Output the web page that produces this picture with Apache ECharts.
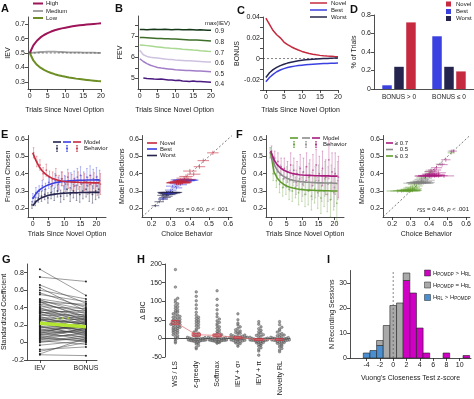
<!DOCTYPE html>
<html>
<head>
<meta charset="utf-8">
<script src="https://cdn.jsdelivr.net/npm/echarts@6/dist/echarts.min.js"></script>
<style>
  html, body { margin: 0; padding: 0; background: #fff; }
  #chart { width: 474px; height: 399px; }
</style>
</head>
<body>
<div id="chart"></div>
<script>
// ---------- data ----------
var tA = [0,1,2,3,4,5,6,7,8,9,10,11,12,13,14,15,16,17,18,19,20];
var aHigh = [0.50,0.553,0.585,0.608,0.625,0.638,0.649,0.658,0.665,0.671,0.676,0.681,0.685,0.689,0.692,0.695,0.698,0.700,0.702,0.704,0.706];
var aMedium = [0.50,0.503,0.505,0.507,0.508,0.509,0.510,0.509,0.508,0.507,0.506,0.505,0.505,0.504,0.504,0.503,0.503,0.502,0.502,0.501,0.501];
var aLow = [0.50,0.448,0.418,0.398,0.383,0.371,0.361,0.353,0.346,0.340,0.335,0.330,0.326,0.322,0.319,0.316,0.313,0.310,0.308,0.305,0.303];

var bLevels = ['0.9','0.8','0.7','0.6','0.5','0.4'];
var b09 = [7.31,7.31,7.30,7.31,7.32,7.31,7.31,7.32,7.31,7.30,7.31,7.31,7.30,7.30,7.31,7.30,7.29,7.30,7.29,7.28,7.28];
var b08 = [6.93,6.93,6.92,6.91,6.90,6.89,6.89,6.88,6.87,6.86,6.86,6.85,6.84,6.83,6.82,6.82,6.81,6.80,6.79,6.78,6.77];
var b07 = [6.58,6.57,6.55,6.53,6.51,6.49,6.47,6.45,6.44,6.42,6.41,6.40,6.38,6.37,6.36,6.34,6.33,6.31,6.30,6.28,6.27];
var b06 = [6.33,6.12,6.04,6.00,5.98,5.96,5.94,5.92,5.90,5.89,5.87,5.86,5.85,5.84,5.83,5.82,5.81,5.80,5.79,5.78,5.78];
var b05 = [5.93,5.80,5.70,5.62,5.57,5.52,5.49,5.47,5.45,5.43,5.41,5.40,5.39,5.38,5.37,5.36,5.35,5.35,5.34,5.33,5.32];
var b04 = [null,5.02,5.00,4.99,4.97,4.96,4.97,4.95,4.93,4.92,4.90,4.91,4.88,4.87,4.86,4.88,4.86,4.85,4.84,4.83,4.82];

var cNovel = [0.039,0.033,0.027,0.023,0.020,0.016,0.0135,0.0115,0.0098,0.0083,0.0070,0.0059,0.0050,0.0043,0.0037,0.0032,0.0028,0.0025,0.0023,0.0021,0.0020];
var cBest = [-0.022,-0.018,-0.015,-0.0125,-0.0108,-0.0095,-0.0085,-0.0077,-0.0071,-0.0066,-0.0062,-0.0058,-0.0055,-0.0052,-0.0050,-0.0048,-0.0046,-0.0045,-0.0044,-0.0043,-0.0042];
var cWorst = [-0.018,-0.0135,-0.0105,-0.0083,-0.0066,-0.0053,-0.0042,-0.0033,-0.0026,-0.0020,-0.0015,-0.0011,-0.0008,-0.0005,-0.0003,-0.0001,0.0001,0.0003,0.0005,0.0006,0.0008];

var dCats = ['BONUS > 0', 'BONUS \u2264 0'];
var dNovel = [0.72, 0.19];
var dBest = [0.04, 0.57];
var dWorst = [0.24, 0.24];

var tE = [0,1,2,3,4,5,6,7,8,9,10,11,12,13,14,15,16,17,18,19,20,21];
var eNovelModel = [0.520,0.475,0.440,0.415,0.397,0.384,0.374,0.367,0.362,0.358,0.355,0.353,0.352,0.351,0.350,0.349,0.349,0.348,0.348,0.347,0.347,0.347];
var eBestModel = [0.255,0.285,0.305,0.318,0.328,0.336,0.342,0.347,0.351,0.354,0.356,0.358,0.359,0.360,0.361,0.362,0.362,0.363,0.363,0.363,0.364,0.364];
var eWorstModel = [0.215,0.238,0.253,0.263,0.270,0.275,0.279,0.282,0.284,0.286,0.287,0.288,0.289,0.290,0.290,0.291,0.291,0.291,0.292,0.292,0.292,0.292];
var eNovelBeh = [0.52,0.47,0.45,0.40,0.42,0.38,0.37,0.39,0.35,0.37,0.34,0.36,0.35,0.33,0.36,0.34,0.35,0.33,0.34,0.35,0.33,0.34];
var eBestBeh = [0.26,0.29,0.30,0.33,0.31,0.35,0.33,0.36,0.34,0.37,0.35,0.38,0.36,0.37,0.38,0.39,0.36,0.38,0.39,0.37,0.38,0.36];
var eWorstBeh = [0.22,0.24,0.26,0.27,0.28,0.26,0.29,0.28,0.30,0.27,0.29,0.31,0.28,0.30,0.29,0.28,0.30,0.31,0.29,0.28,0.30,0.31];
var eNovelErr = [0.03,0.03,0.03,0.035,0.035,0.035,0.04,0.04,0.04,0.04,0.045,0.045,0.045,0.045,0.05,0.05,0.05,0.05,0.05,0.055,0.055,0.06];
var eBestErr = [0.025,0.03,0.03,0.03,0.035,0.035,0.035,0.04,0.04,0.04,0.04,0.045,0.045,0.045,0.05,0.05,0.05,0.05,0.055,0.055,0.055,0.06];
var eWorstErr = [0.02,0.025,0.025,0.03,0.03,0.03,0.035,0.035,0.035,0.035,0.04,0.04,0.04,0.04,0.045,0.045,0.045,0.045,0.05,0.05,0.05,0.05];

var fHighModel = [0.530,0.480,0.452,0.434,0.421,0.412,0.405,0.400,0.397,0.394,0.392,0.391,0.390,0.389,0.388,0.388,0.387,0.387,0.387,0.386,0.386,0.386];
var fMidModel = [0.530,0.455,0.420,0.398,0.384,0.374,0.367,0.362,0.358,0.355,0.353,0.351,0.350,0.349,0.348,0.347,0.347,0.346,0.346,0.346,0.345,0.345];
var fLowModel = [0.520,0.410,0.375,0.353,0.339,0.329,0.322,0.317,0.313,0.310,0.308,0.306,0.305,0.304,0.303,0.302,0.302,0.301,0.301,0.300,0.300,0.300];
var fHighBeh = [0.53,0.49,0.47,0.44,0.43,0.41,0.45,0.42,0.40,0.43,0.41,0.44,0.39,0.42,0.45,0.40,0.43,0.38,0.48,0.41,0.40,0.38];
var fMidBeh = [0.52,0.46,0.41,0.40,0.37,0.38,0.36,0.39,0.35,0.37,0.34,0.36,0.38,0.33,0.35,0.36,0.33,0.37,0.34,0.35,0.32,0.36];
var fLowBeh = [0.52,0.40,0.36,0.34,0.32,0.33,0.31,0.30,0.32,0.29,0.31,0.28,0.30,0.27,0.31,0.29,0.26,0.30,0.28,0.25,0.29,0.23];
var fHighErr = [0.03,0.04,0.05,0.05,0.06,0.06,0.07,0.07,0.07,0.08,0.08,0.08,0.09,0.09,0.09,0.10,0.10,0.10,0.11,0.11,0.12,0.12];
var fMidErr = [0.03,0.04,0.04,0.05,0.05,0.06,0.06,0.06,0.07,0.07,0.07,0.08,0.08,0.08,0.09,0.09,0.09,0.10,0.10,0.10,0.11,0.11];
var fLowErr = [0.03,0.04,0.04,0.05,0.05,0.05,0.06,0.06,0.06,0.07,0.07,0.07,0.08,0.08,0.08,0.09,0.09,0.09,0.10,0.10,0.10,0.11];
// horizontal half-widths of the crosses in the F scatter
var fScatterErr = [0.02,0.025,0.03,0.03,0.035,0.035,0.04,0.04,0.04,0.045,0.045,0.045,0.05,0.05,0.05,0.05,0.055,0.055,0.055,0.06,0.06,0.06];

var gCats = ['IEV', 'BONUS'];
var gIEV = [0.84,0.75,0.66,0.63,0.60,0.57,0.55,0.50,0.49,0.48,0.47,0.46,0.46,0.44,0.43,0.41,0.40,0.39,0.38,0.37,0.36,0.35,0.34,0.33,0.33,0.31,0.30,0.29,0.28,0.27,0.26,0.26,0.25,0.24,0.23,0.22,0.21,0.20,0.19,0.18,0.17,0.16,0.15,0.14,0.13,0.12,0.11,0.10,0.09,0.08,0.07,0.06,0.05,0.04,0.03,0.02,0.01,0.00,-0.03,-0.08,-0.10,-0.13,-0.14,0.35,0.27,0.22,0.18,0.12,0.09,0.05];
var gBONUS = [0.54,0.70,0.45,0.36,0.50,0.40,0.47,0.42,0.33,0.38,0.28,0.44,0.30,0.35,0.25,0.39,0.22,0.31,0.27,0.34,0.20,0.29,0.37,0.18,0.24,0.32,0.15,0.26,0.21,0.12,0.30,0.17,0.23,0.10,0.19,0.28,0.14,0.25,0.08,0.16,0.22,0.05,0.18,0.11,0.20,0.03,0.13,0.24,0.07,0.15,0.01,0.10,0.17,0.04,0.12,-0.02,0.08,0.06,0.02,-0.05,0.00,0.05,-0.15,0.26,0.21,0.13,0.09,0.19,0.16,0.02];
var gMean = [0.22, 0.18];
var gStarLevel = 0.26;

var hCats = ['WS / LS', '\u03b5-greedy', 'Softmax', 'IEV + \u03c3\u00b2', 'IEV + \u03c0', 'Novelty RL'];
var hWSLS = [185,138,108,103,97,93,88,85,81,77,74,71,69,66,63,61,59,57,55,53,51,49,47,46,44,43,41,40,38,37,35,33,32,30,28,27,25,23,21,19,17,15,12,10,7,4,1,-3,-8,-12];
var hEps = [125,113,101,90,80,70,62,57,54,50,47,44,40,37,33,29,25,21,17,14,11,8,6,4,3,2,1,0,-1,-1,-2,-3,-3,-4,-4,-5,-5,-5,-6,-6,-7,-7,-8,-9,-10,-12,-15,-19,-24,-28];
var hSoft = [128,105,89,77,66,58,52,47,43,39,35,31,27,23,19,16,13,10,8,6,4,3,2,1,0,-1,-1,-2,-3,-3,-4,-4,-5,-5,-5,-6,-6,-7,-7,-8,-9,-10,-11,-13];
var hSigma = [66,50,41,36,31,27,23,20,18,16,14,12,10,9,7,6,5,4,3,2,1,0,0,-1,-2,-2,-3,-4,-5,-6,-7,-8,-9,-10,-12,-14,-17,-21,2,3,1,-1,0,4];
var hPi = [45,38,31,26,22,18,15,12,10,8,6,4,3,1,0,-1,-2,-3,-3,-4,-5,-5,-6,-6,-7,-8,-9,-10,-11,-12,-14,-16,-18,-21,-25,-29,-34,-45,-4,-2,-5,-3];
var hNov = [45,37,30,25,21,17,13,11,9,7,5,4,3,2,1,0,-1,-2,-2,-3,-4,-4,-5,-5,-6,-7,-8,-9,-10,-11,-13,-15,-17,-20,-23,-27,-31,-36,-3,-1,-6,0];
var hMean = [43, 10, 8, 2, -3, -3];
var hErr = [5, 4, 4, 2.5, 2.5, 2.5];

var iBins = [-4,-3,-2,-1,0,1,2,3,4,5,8,11];
var iBlue = [2,3,5,0,0,0,0,0,0,0,0,0];
var iGray = [0,0,2,13,21,22,3,0,0,0,0,0];
var iMagenta = [0,0,0,0,0,0,31,26,12,2,2,1];

// ---------- helpers ----------
var FONT = '"Liberation Sans", Arial, sans-serif';
var INK = '#222';

function vAxis(gi, min, max, ticks, labels, name, gap, lblMargin) {
  return {
    type: 'value', gridIndex: gi, min: min, max: max,
    name: name || '', nameLocation: 'middle', nameGap: gap || 0,
    nameTextStyle: {fontSize: 7, color: INK, fontFamily: FONT},
    axisLine: {show: true, onZero: false, lineStyle: {color: INK, width: 0.8}},
    axisTick: {show: true, length: 3, customValues: ticks, lineStyle: {color: INK, width: 0.8}},
    axisLabel: {customValues: labels || ticks, fontSize: 7, color: INK, fontFamily: FONT, margin: lblMargin || 3},
    splitLine: {show: false}
  };
}

function pairs(xs, ys) {
  return xs.map(function (x, i) { return [x, ys[i]]; });
}

function lineS(xi, xs, ys, color, w) {
  return {type: 'line', xAxisIndex: xi, yAxisIndex: xi, data: pairs(xs, ys), showSymbol: false,
    symbol: 'none', lineStyle: {color: color, width: w}, itemStyle: {color: color}, silent: true, z: 3};
}

function errS(xi, xs, ys, es, dx, color) {
  var data = xs.map(function (x, i) { return [x + dx, ys[i], es[i]]; });
  return {type: 'custom', xAxisIndex: xi, yAxisIndex: xi, data: data, silent: true, z: 2,
    renderItem: function (p, api) {
      var x = api.value(0), y = api.value(1), e = api.value(2);
      var a = api.coord([x, y + e]), b = api.coord([x, y - e]), c = api.coord([x, y]);
      var st = {stroke: color, lineWidth: 0.6};
      return {type: 'group', children: [
        {type: 'line', shape: {x1: a[0], y1: a[1], x2: b[0], y2: b[1]}, style: st},
        {type: 'line', shape: {x1: a[0] - 0.8, y1: a[1], x2: a[0] + 0.8, y2: a[1]}, style: st},
        {type: 'line', shape: {x1: b[0] - 0.8, y1: b[1], x2: b[0] + 0.8, y2: b[1]}, style: st},
        {type: 'circle', shape: {cx: c[0], cy: c[1], r: 0.9}, style: {fill: color}}
      ]};
    }};
}

function crossS(xi, bx, my, ex, ey, color) {
  var data = bx.map(function (x, i) { return [x, my[i], ex[i], ey]; });
  return {type: 'custom', xAxisIndex: xi, yAxisIndex: xi, data: data, silent: true, z: 3,
    renderItem: function (p, api) {
      var x = api.value(0), y = api.value(1), a = api.value(2), b = api.value(3);
      var l = api.coord([x - a, y]), r = api.coord([x + a, y]);
      var t = api.coord([x, y + b]), d = api.coord([x, y - b]);
      var st = {stroke: color, lineWidth: 0.8};
      return {type: 'group', children: [
        {type: 'line', shape: {x1: l[0], y1: l[1], x2: r[0], y2: r[1]}, style: st},
        {type: 'line', shape: {x1: t[0], y1: t[1], x2: d[0], y2: d[1]}, style: st}
      ]};
    }};
}

function diagS(xi) {
  return {type: 'line', xAxisIndex: xi, yAxisIndex: xi, data: [[0.15, 0.15], [0.62, 0.62]], symbol: 'none',
    lineStyle: {color: '#444', width: 0.7, type: [2, 2]}, silent: true, z: 1};
}

// deterministic beeswarm: points sharing a value bin are spread sideways
function swarm(vals, idx) {
  var sorted = vals.slice().sort(function (a, b) { return a - b; });
  var bins = {};
  sorted.forEach(function (v) { var k = Math.round(v / 7); (bins[k] = bins[k] || []).push(v); });
  var out = [];
  Object.keys(bins).forEach(function (k) {
    var arr = bins[k], n = arr.length;
    var d = Math.min(0.11, 0.84 / Math.max(n - 1, 1));
    arr.forEach(function (v, j) {
      var off = (j % 2 === 1 ? 1 : -1) * Math.ceil(j / 2) * d;
      out.push([idx + off, v]);
    });
  });
  return out;
}

// ---------- colours ----------
var colA = {high: '#9e1458', med: '#a3a3a3', low: '#6d8e24'};
var colB = ['#16391a', '#3d6e2a', '#a9d890', '#cfc2e0', '#a27dc8', '#4a1a80'];
var colNovel = '#c62a3e', colBest = '#3b40e0', colWorst = '#24244e';
var colF = {high: '#a81c7c', mid: '#8c8c8c', low: '#5f9b2d'};
var colI = {blue: '#4b8fd0', gray: '#a9a9a9', mag: '#d000c4'};
var colG = '#b2e632';

// ---------- grids ----------
var grids = [
  {left: 28, top: 17, width: 73, height: 72},       // A
  {left: 138, top: 16, width: 73, height: 73},      // B
  {left: 263, top: 17, width: 75, height: 73},      // C
  {left: 374, top: 15, width: 100, height: 74},     // D
  {left: 28, top: 135.5, width: 78, height: 81.5},  // E left
  {left: 142, top: 135.5, width: 90, height: 81.5}, // E right
  {left: 266, top: 135.5, width: 78, height: 81.5}, // F left
  {left: 383, top: 135.5, width: 90, height: 81.5}, // F right
  {left: 27, top: 264, width: 70, height: 96},      // G
  {left: 165, top: 264, width: 125, height: 93},    // H
  {left: 350, top: 270.5, width: 121, height: 87.5} // I
];

var trialTicks = [0, 5, 10, 15, 20];
var fracTicks = [0.2, 0.3, 0.4, 0.5, 0.6];
var TRIALS = 'Trials Since Novel Option';

var xAxes = [
  vAxis(0, -0.5, 20, trialTicks, null, TRIALS, 18, 4),
  vAxis(1, -0.5, 20, trialTicks, null, TRIALS, 18, 4),
  vAxis(2, -0.8, 20, trialTicks, null, TRIALS, 17, 4),
  {type: 'category', gridIndex: 3, data: dCats, axisLine: {lineStyle: {color: INK, width: 0.8}},
    axisTick: {show: false}, axisLabel: {fontSize: 6.5, color: INK, fontFamily: FONT, margin: 5}},
  vAxis(4, -1.5, 23, trialTicks, null, TRIALS, 14, 4),
  vAxis(5, 0.15, 0.62, fracTicks, null, 'Choice Behavior', 14, 4),
  vAxis(6, -1.5, 23, trialTicks, null, TRIALS, 14, 4),
  vAxis(7, 0.15, 0.62, fracTicks, null, 'Choice Behavior', 14, 4),
  vAxis(8, -0.28, 1.24, [0, 1], null, '', 0, 5),
  {type: 'category', gridIndex: 9, data: hCats, axisLine: {lineStyle: {color: INK, width: 0.8}},
    axisTick: {show: true, length: 2, alignWithLabel: true, lineStyle: {color: INK, width: 0.8}},
    axisLabel: {rotate: 90, fontSize: 7, color: INK, fontFamily: FONT, margin: 4,
      formatter: function (v) { return v.indexOf('\u03b5') === 0 ? '{i|\u03b5}' + v.slice(1) : v; },
      rich: {i: {fontStyle: 'italic', fontSize: 7, fontFamily: FONT, color: INK}}}},
  vAxis(10, -6.5, 11.7, [-4, -2, 0, 2, 4, 6, 8, 10], null, "Vuong's Closeness Test z-score", 17, 4),
  {type: 'value', gridIndex: 9, min: -0.5, max: 5.5, show: false}
];
xAxes[8].axisLabel.formatter = function (v) { return gCats[Math.round(v)]; };

var yAxes = [
  vAxis(0, 0.25, 0.75, [0.3, 0.4, 0.5, 0.6, 0.7], null, 'IEV', 16),
  vAxis(1, 4.5, 7.95, [5, 5.5, 6, 6.5, 7, 7.5], [5, 6, 7], 'FEV', 14),
  vAxis(2, -0.03, 0.04, [-0.03, -0.02, -0.01, 0, 0.01, 0.02, 0.03, 0.04], [-0.02, 0, 0.02, 0.04], 'BONUS', 17),
  vAxis(3, 0, 0.8, [0, 0.2, 0.4, 0.6, 0.8], null, '% of Trials', 16),
  vAxis(4, 0.15, 0.62, fracTicks, null, 'Fraction Chosen', 15),
  vAxis(5, 0.15, 0.62, fracTicks, null, 'Model Predictions', 15),
  vAxis(6, 0.15, 0.62, fracTicks, null, 'Fraction Chosen', 18),
  vAxis(7, 0.15, 0.62, fracTicks, null, 'Model Predictions', 17),
  vAxis(8, -0.2, 0.9, [-0.2, 0, 0.2, 0.4, 0.6, 0.8], null, 'Standardized Coefficient', 15),
  vAxis(9, -50, 200, [-50, 0, 50, 100, 150, 200], null, '\u0394 BIC', 18),
  vAxis(10, 0, 35, [0, 10, 20, 30], null, 'N Recording Sessions', 14)
];

// ---------- series ----------
var series = [];

// A
series.push(lineS(0, tA, aMedium, colA.med, 1.8));
series.push(lineS(0, tA, aHigh, colA.high, 2));
series.push(lineS(0, tA, aLow, colA.low, 2));
series.push({type: 'line', xAxisIndex: 0, yAxisIndex: 0, data: [[0, 0.5], [20, 0.5]], symbol: 'none',
  lineStyle: {color: '#333', width: 0.6, type: [2, 2]}, silent: true, z: 4});

// B
[b09, b08, b07, b06, b05, b04].forEach(function (arr, i) {
  series.push(lineS(1, tA, arr, colB[i], 1.5));
});

// C
series.push({type: 'line', xAxisIndex: 2, yAxisIndex: 2, data: [[-0.8, 0], [20, 0]], symbol: 'none',
  lineStyle: {color: '#333', width: 0.6, type: [2, 2]}, silent: true, z: 1});
series.push(lineS(2, tA, cNovel, colNovel, 1.5));
series.push(lineS(2, tA, cBest, colBest, 1.5));
series.push(lineS(2, tA, cWorst, colWorst, 1.5));

// D
[[dBest, colBest], [dWorst, colWorst], [dNovel, colNovel]].forEach(function (s) {
  series.push({type: 'bar', xAxisIndex: 3, yAxisIndex: 3, data: s[0], barWidth: 9.5, barGap: '26%',
    barCategoryGap: '33%', itemStyle: {color: s[1]}, silent: true});
});

// E left
series.push(errS(4, tE, eWorstBeh, eWorstErr, -0.25, 'rgba(36,36,78,0.7)'));
series.push(errS(4, tE, eBestBeh, eBestErr, 0, 'rgba(59,64,224,0.6)'));
series.push(errS(4, tE, eNovelBeh, eNovelErr, 0.25, 'rgba(198,42,62,0.6)'));
series.push(lineS(4, tE, eWorstModel, colWorst, 1.6));
series.push(lineS(4, tE, eBestModel, colBest, 1.6));
series.push(lineS(4, tE, eNovelModel, colNovel, 1.6));

// E right
series.push(diagS(5));
series.push(crossS(5, eWorstBeh, eWorstModel, eWorstErr, 0.008, 'rgba(36,36,78,0.8)'));
series.push(crossS(5, eBestBeh, eBestModel, eBestErr, 0.008, 'rgba(59,64,224,0.75)'));
series.push(crossS(5, eNovelBeh, eNovelModel, eNovelErr, 0.012, 'rgba(198,42,62,0.75)'));

// F left
series.push(errS(6, tE, fLowBeh, fLowErr, -0.25, 'rgba(95,155,45,0.55)'));
series.push(errS(6, tE, fMidBeh, fMidErr, 0, 'rgba(130,130,130,0.55)'));
series.push(errS(6, tE, fHighBeh, fHighErr, 0.25, 'rgba(168,28,124,0.55)'));
series.push(lineS(6, tE, fLowModel, colF.low, 1.6));
series.push(lineS(6, tE, fMidModel, colF.mid, 1.6));
series.push(lineS(6, tE, fHighModel, colF.high, 1.6));

// F right
series.push(diagS(7));
series.push(crossS(7, fLowBeh, fLowModel, fScatterErr, 0.01, 'rgba(95,155,45,0.65)'));
series.push(crossS(7, fMidBeh, fMidModel, fScatterErr, 0.01, 'rgba(130,130,130,0.65)'));
series.push(crossS(7, fHighBeh, fHighModel, fScatterErr, 0.012, 'rgba(168,28,124,0.65)'));

// G
gIEV.forEach(function (v, i) {
  series.push({type: 'line', xAxisIndex: 8, yAxisIndex: 8, data: [[0, v], [1, gBONUS[i]]],
    symbol: 'circle', symbolSize: 2, showSymbol: true, lineStyle: {color: '#3c3c3c', width: 0.5},
    itemStyle: {color: '#222'}, silent: true, z: 2});
});
series.push({type: 'line', xAxisIndex: 8, yAxisIndex: 8, data: [[0, gMean[0]], [1, gMean[1]]], symbol: 'none',
  lineStyle: {color: colG, width: 3.5}, silent: true, z: 5});
series.push({type: 'scatter', xAxisIndex: 8, yAxisIndex: 8, data: [[0.5, gStarLevel]], symbolSize: 0,
  label: {show: true, formatter: '* * *', color: colG, fontSize: 8, fontWeight: 'bold', position: 'inside'},
  silent: true, z: 6});

// H
[hWSLS, hEps, hSoft, hSigma, hPi, hNov].forEach(function (vals, i) {
  series.push({type: 'scatter', xAxisIndex: 11, yAxisIndex: 9, data: swarm(vals, i), symbolSize: 2.6,
    itemStyle: {color: '#8e8e8e', borderColor: '#2a2a2a', borderWidth: 0.4}, silent: true, z: 2});
});
series.push({type: 'line', xAxisIndex: 11, yAxisIndex: 9, data: hMean.map(function (m, i) { return [i, m]; }),
  symbol: 'none', lineStyle: {color: '#e07b7b', width: 0.8}, silent: true, z: 4});
series.push({type: 'custom', xAxisIndex: 11, yAxisIndex: 9, silent: true, z: 5,
  data: hMean.map(function (m, i) { return [i, m, hErr[i]]; }),
  renderItem: function (p, api) {
    var x = api.value(0), m = api.value(1), e = api.value(2);
    var a = api.coord([x - 0.2, m + e]), b = api.coord([x + 0.2, m - e]);
    return {type: 'rect', shape: {x: a[0], y: a[1], width: b[0] - a[0], height: b[1] - a[1]},
      style: {fill: 'rgba(220,70,80,0.35)', stroke: '#d23a48', lineWidth: 0.8}};
  }});

// I
series.push({type: 'custom', xAxisIndex: 10, yAxisIndex: 10, silent: true, z: 2,
  data: iBins.map(function (b, i) { return [b, iBlue[i], iMagenta[i], iGray[i]]; }),
  renderItem: function (p, api) {
    var x = api.value(0), base = 0, kids = [];
    [[api.value(1), colI.blue], [api.value(2), colI.mag], [api.value(3), colI.gray]].forEach(function (s) {
      if (s[0] > 0) {
        var a = api.coord([x - 0.5, base + s[0]]), b = api.coord([x + 0.5, base]);
        kids.push({type: 'rect', shape: {x: a[0], y: a[1], width: b[0] - a[0], height: b[1] - a[1]},
          style: {fill: s[1], stroke: '#222', lineWidth: 0.6}});
        base += s[0];
      }
    });
    return {type: 'group', children: kids};
  }});
series.push({type: 'line', xAxisIndex: 10, yAxisIndex: 10, data: [[0, 0], [0, 35]], symbol: 'none',
  lineStyle: {color: '#555', width: 0.7, type: [2, 2]}, silent: true, z: 6});

// ---------- legends, labels, letters ----------
function gl(x1, x2, y, color, w) {
  return {type: 'line', z: 50, silent: true, shape: {x1: x1, y1: y, x2: x2, y2: y}, style: {stroke: color, lineWidth: w}};
}
function gt(x, y, text, size, align, extra) {
  var st = {text: text, fontSize: size, fontFamily: FONT, fill: INK, align: align || 'left', verticalAlign: 'middle'};
  if (extra) { for (var k in extra) { st[k] = extra[k]; } }
  return {type: 'text', x: x, y: y, z: 50, silent: true, style: st};
}
function gbar(x, y, color) {
  return {type: 'group', z: 50, silent: true, children: [
    {type: 'line', shape: {x1: x, y1: y - 3, x2: x, y2: y + 3}, style: {stroke: color, lineWidth: 0.7}},
    {type: 'line', shape: {x1: x - 0.8, y1: y - 3, x2: x + 0.8, y2: y - 3}, style: {stroke: color, lineWidth: 0.7}},
    {type: 'line', shape: {x1: x - 0.8, y1: y + 3, x2: x + 0.8, y2: y + 3}, style: {stroke: color, lineWidth: 0.7}},
    {type: 'circle', shape: {cx: x, cy: y, r: 0.9}, style: {fill: color}}
  ]};
}
function letter(x, y, t) {
  return gt(x, y, t, 11, 'left', {fontWeight: 'bold', fill: '#111'});
}
var subRich = {s: {fontSize: 4.5, fontFamily: FONT, fill: INK, verticalAlign: 'bottom', padding: [3, 0, 0, 0]},
  i: {fontSize: 6, fontFamily: FONT, fill: INK, fontStyle: 'italic'}};

var graphics = [
  letter(1, 8.5, 'A'), letter(115, 8.5, 'B'), letter(237, 10.5, 'C'), letter(350, 9.5, 'D'),
  letter(1, 135, 'E'), letter(236, 134.5, 'F'), letter(2, 259.5, 'G'), letter(137, 259.5, 'H'), letter(327, 259.5, 'I'),
  // A legend
  gl(33, 43, 3.5, colA.high, 2), gt(46, 3.5, 'High', 6),
  gl(33, 43, 11, colA.med, 2), gt(46, 11, 'Medium', 6),
  gl(33, 43, 18, colA.low, 2), gt(46, 18, 'Low', 6),
  // B labels
  gt(230, 23, 'max(IEV)', 6, 'right'),
  // C legend
  gl(310, 327, 3, colNovel, 1.5), gt(331, 3, 'Novel', 6),
  gl(310, 327, 10, colBest, 1.5), gt(331, 10, 'Best', 6),
  gl(310, 327, 17, colWorst, 1.5), gt(331, 17, 'Worst', 6),
  // D legend
  {type: 'rect', z: 50, shape: {x: 446, y: 1.5, width: 5, height: 5}, style: {fill: colNovel}}, gt(456, 4, 'Novel', 6),
  {type: 'rect', z: 50, shape: {x: 446, y: 9, width: 5, height: 5}, style: {fill: colBest}}, gt(456, 11.5, 'Best', 6),
  {type: 'rect', z: 50, shape: {x: 446, y: 16, width: 5, height: 5}, style: {fill: colWorst}}, gt(456, 18.5, 'Worst', 6),
  // E legend
  gl(53, 61, 142, colWorst, 1.6), gl(63, 71, 142, colBest, 1.6), gl(73, 81, 142, colNovel, 1.6), gt(84, 142, 'Model', 6),
  gbar(57, 148.5, colWorst), gbar(67, 148.5, colBest), gbar(77, 148.5, colNovel), gt(84, 148.5, 'Behavior', 6),
  // E right legend
  gl(147, 157, 143, colNovel, 1.6), gt(160, 143, 'Novel', 6),
  gl(147, 157, 149, colBest, 1.6), gt(160, 149, 'Best', 6),
  gl(147, 157, 155.5, colWorst, 1.6), gt(160, 155.5, 'Worst', 6),
  gt(228, 209, '{i|r}{s|SS} = 0.60, {i|p} < .001', 6, 'right', {rich: subRich}),
  // F legend
  gl(290, 298, 138, colF.low, 1.6), gl(302, 310, 138, colF.mid, 1.6), gl(312, 320, 138, colF.high, 1.6), gt(323, 138, 'Model', 6),
  gbar(294, 144.5, colF.low), gbar(306, 144.5, colF.mid), gbar(316, 144.5, colF.high), gt(323, 144.5, 'Behavior', 6),
  // F right legend
  gl(386, 393, 143, colF.high, 1.6), gt(408, 143, '\u2265 0.7', 6, 'right'),
  gl(386, 393, 149.5, colF.mid, 1.6), gt(408, 149.5, '0.5', 6, 'right'),
  gl(386, 393, 156, colF.low, 1.6), gt(408, 156, '\u2264 0.3', 6, 'right'),
  gt(469, 209, '{i|r}{s|SS} = 0.46, {i|p} < .001', 6, 'right', {rich: subRich}),
  // I legend
  {type: 'rect', z: 50, shape: {x: 424.5, y: 270, width: 6, height: 6}, style: {fill: colI.mag, stroke: '#222', lineWidth: 0.5}},
  gt(433, 273, 'H{s|POMDP} > H{s|RL}', 6, 'left', {rich: subRich}),
  {type: 'rect', z: 50, shape: {x: 424.5, y: 282, width: 6, height: 6}, style: {fill: colI.gray, stroke: '#222', lineWidth: 0.5}},
  gt(433, 285, 'H{s|POMDP} = H{s|RL}', 6, 'left', {rich: subRich}),
  {type: 'rect', z: 50, shape: {x: 424.5, y: 294.5, width: 6, height: 6}, style: {fill: colI.blue, stroke: '#222', lineWidth: 0.5}},
  gt(433, 297.5, 'H{s|RL} > H{s|POMDP}', 6, 'left', {rich: subRich})
];
// B end labels
var bLabelY = [31, 42, 53, 63.5, 74, 84];
bLevels.forEach(function (l, i) { graphics.push(gt(215, bLabelY[i], l, 6.5)); });

var chart = echarts.init(document.getElementById('chart'));
chart.setOption({
  animation: false,
  textStyle: {fontFamily: FONT},
  grid: grids,
  xAxis: xAxes,
  yAxis: yAxes,
  series: series,
  graphic: graphics
});
</script>
</body>
</html>
